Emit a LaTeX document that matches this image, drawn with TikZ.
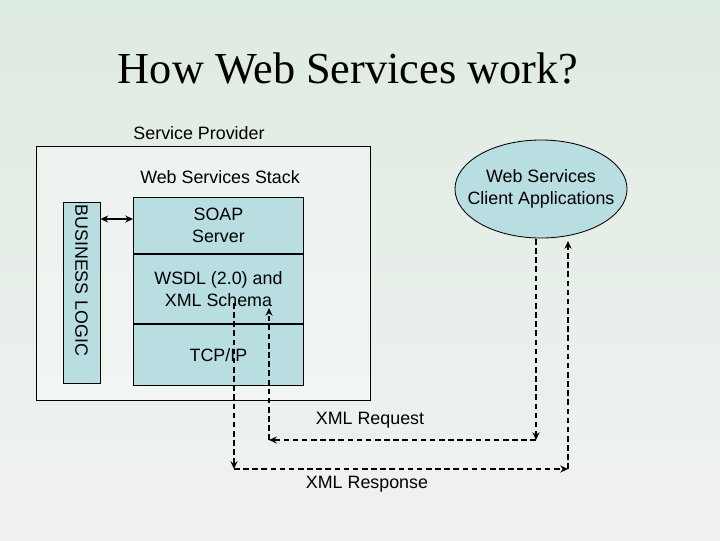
\documentclass[tikz,border=0pt]{standalone}
\usepackage{fontspec}
\setmainfont{Liberation Sans}
\newfontfamily\titlefont{Liberation Serif}
\usetikzlibrary{shapes.geometric, arrows.meta, positioning}
\definecolor{stackcyan}{RGB}{184,222,226}
\definecolor{slidetop}{RGB}{222,235,224}
\definecolor{slidebottom}{RGB}{240,242,242}

\begin{document}
\begin{tikzpicture}[
    x=0.025cm, y=-0.025cm,
    font=\fontsize{12.7}{15.8}\selectfont,
    layer/.style={rectangle, draw=black, line width=0.6pt, fill=stackcyan,
        minimum width=4.25cm, align=center, inner sep=0pt},
    msgarrow/.style={line width=1.7pt, dash pattern=on 4pt off 2.5pt,
        -{Stealth[length=5.5pt,width=5pt]}},
    linkarrow/.style={line width=1.5pt,
        {Stealth[length=5.5pt,width=5pt]}-{Stealth[length=5.5pt,width=5pt]}}
]
    % Slide background
    \shade[top color=slidetop, bottom color=slidebottom] (0,0) rectangle (720,540);
    \useasboundingbox (0,0) rectangle (720,540);

    % Title
    \node[font=\titlefont\fontsize{31.5}{36}\selectfont] (title) at (348,68) {How Web Services work?};

    % Service provider
    \node[draw, line width=0.6pt, fill=white, fill opacity=0.35, anchor=north west,
        minimum width=8.35cm, minimum height=6.35cm] (provider) at (36,146) {};
    \node (providerlabel) at (199,133) {Service Provider};
    \node (stacklabel) at (220,177) {Web Services Stack};

    % Stack layers
    \node[layer, minimum height=1.4cm, anchor=north west] (soap) at (133,197) {SOAP\\Server};
    \node[layer, minimum height=1.725cm, below=0pt of soap] (wsdl) {WSDL (2.0) and\\XML Schema};
    \node[layer, minimum height=1.525cm, below=0pt of wsdl] (tcp) {TCP/IP};

    % Business logic
    \node[layer, rotate=-90, minimum height=0.925cm, text width=4.4cm, align=left,
        inner xsep=0.0625cm] (logic) at (81.5,292.5) {BUSINESS LOGIC};

    % Client
    \node[ellipse, draw=black, line width=0.6pt, fill=stackcyan, inner sep=0pt,
        minimum width=4.3cm, minimum height=2.45cm] (client) at (541,189) {};
    \node[align=center] (clienttext) at (client) {Web Services\\Client Applications};

    % Link between logic and SOAP
    \coordinate (linky) at (0,219);
    \draw[linkarrow] (logic.north |- linky) -- (soap.west |- linky);

    % Request path
    \coordinate (reqstart) at (536,239);
    \coordinate (reqdown) at (536,440);
    \coordinate (reqleft) at (269,440);
    \coordinate (reqend) at (269,308);
    \draw[msgarrow] (reqstart) -- (reqdown);
    \draw[msgarrow] (reqdown) -- (reqleft);
    \draw[msgarrow] (reqleft) -- (reqend);

    % Response path
    \coordinate (respstart) at (234,303);
    \coordinate (respdown) at (234,469);
    \coordinate (respright) at (568,469);
    \coordinate (respend) at (568,241);
    \draw[msgarrow] (respstart) -- (respdown);
    \draw[msgarrow] (respdown) -- (respright);
    \draw[msgarrow] (respright) -- (respend);

    % Message labels
    \node (reqlabel) at (370,420) {XML Request};
    \node (resplabel) at (367,484) {XML Response};
\end{tikzpicture}
\end{document}
